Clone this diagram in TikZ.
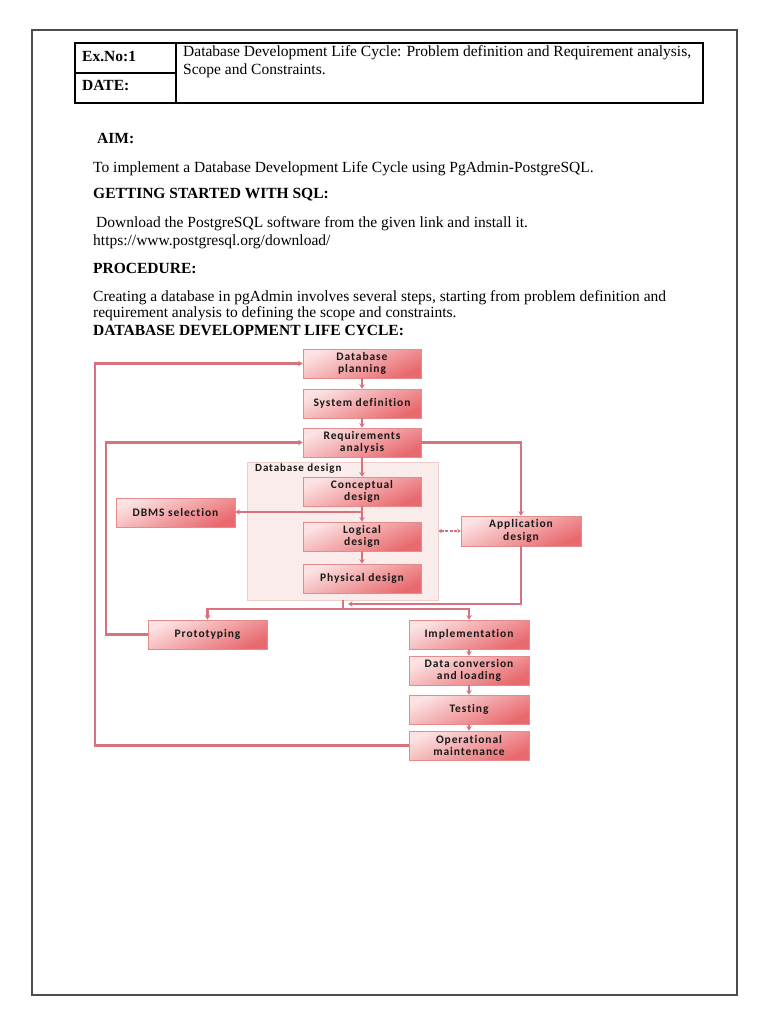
\documentclass[tikz,border=0pt]{standalone}
\usepackage{fontspec}
\setmainfont{Liberation Serif}
\newfontfamily\dfont{Carlito}[LetterSpace=8, Ligatures=NoCommon]
\usetikzlibrary{arrows.meta,shadows}
\definecolor{lc}{RGB}{214,115,126}
\definecolor{boxlight}{RGB}{252,226,226}
\definecolor{boxmid}{RGB}{245,180,180}
\definecolor{boxdark}{RGB}{232,105,110}
\definecolor{boxborder}{RGB}{226,140,140}
\definecolor{contfill}{RGB}{251,236,236}
\definecolor{contdraw}{RGB}{238,205,205}
\tikzset{
  box/.style={draw=boxborder, line width=0.6pt, top color=boxlight, middle color=boxmid, bottom color=boxdark, shading angle=25,
    minimum width=118pt, minimum height=29pt, inner sep=1pt, align=center,
    font=\dfont\bfseries\fontsize{11.5}{12.5}\selectfont, text=black!90,
    drop shadow={shadow xshift=1.2pt, shadow yshift=-1.2pt, fill=black!30, opacity=0.5}},
  conn/.style={draw=lc, line width=2.2pt},
  arr/.style={conn, -{Stealth[length=4.5pt,width=5.5pt]}},
  txt/.style={anchor=base west, inner sep=0pt, font=\fontsize{15.5}{18}\selectfont},
  btxt/.style={txt, font=\fontsize{15.5}{18}\selectfont\bfseries},
}
\begin{document}
\begin{tikzpicture}[x=1pt,y=-1pt]
\useasboundingbox (0,0) rectangle (768,1024);
\fill[white] (0,0) rectangle (768,1024);
% page border
\draw[black!70, line width=1.3pt] (32,30) rectangle (737,995);
% header table
\draw[black, line width=1.1pt] (75,43) rectangle (703,103);
\draw[black, line width=1.1pt] (176,43) -- (176,103);
\draw[black, line width=1.1pt] (75,73) -- (176,73);
\node[btxt] (exno) at (82,62) {Ex.No:1};
\node[btxt] (date) at (82,91) {DATE:};
\node[txt] (t1) at (183,57) {Database Development Life Cycle: Problem definition and Requirement analysis,};
\node[txt] (t2) at (183,75) {Scope and Constraints.};
% body text
\node[btxt] (aim) at (97,144) {AIM:};
\node[txt] (aimt) at (93,173) {To implement a Database Development Life Cycle using PgAdmin-PostgreSQL.};
\node[btxt] (gs) at (93,199) {GETTING STARTED WITH SQL:};
\node[txt] (dl) at (96,227) {Download the PostgreSQL software from the given link and install it.};
\node[txt] (url) at (93,245) {https://www.postgresql.org/download/};
\node[btxt] (proc) at (93,273) {PROCEDURE:};
\node[txt] (c1) at (93,301) {Creating a database in pgAdmin involves several steps, starting from problem definition and};
\node[txt] (c2) at (93,317) {requirement analysis to defining the scope and constraints.};
\node[btxt] (ddlc) at (93,335) {DATABASE DEVELOPMENT LIFE CYCLE:};
% container
\node[draw=contdraw, fill=contfill, line width=0.8pt, minimum width=191pt, minimum height=138pt, inner sep=0pt] (cont) at (342.5,531) {};
\node[anchor=west, inner sep=0pt, font=\dfont\bfseries\fontsize{11}{12.5}\selectfont, text=black!90] (contl) at (255,469) {Database design};
% boxes
\node[box] (dp) at (362,363.5) {Database\\planning};
\node[box] (sd) at (362,403.5) {System definition};
\node[box] (ra) at (362,442.5) {Requirements\\analysis};
\node[box] (cd) at (362,491.5) {Conceptual\\design};
\node[box] (ld) at (362,536.5) {Logical\\design};
\node[box] (pd) at (362,578.5) {Physical design};
\node[box, minimum width=119pt] (dbms) at (175.5,512.5) {DBMS selection};
\node[box, minimum width=120pt, minimum height=30pt] (ad) at (521,531) {Application\\design};
\node[box, minimum width=119pt] (proto) at (207.5,634.5) {Prototyping};
\node[box, minimum width=120pt] (impl) at (469,634.5) {Implementation};
\node[box, minimum width=120pt] (dc) at (469,670.5) {Data conversion\\and loading};
\node[box, minimum width=120pt] (test) at (469,709.5) {Testing};
\node[box, minimum width=120pt] (om) at (469,745.5) {Operational\\maintenance};
% junction coordinates
\coordinate (jtop) at (343,600);
\coordinate (jbot) at (343,609);
\coordinate (jarr) at (348,604);
\coordinate (cdl) at (362,512);
% vertical flow
\draw[arr] (dp) -- (sd);
\draw[arr] (sd) -- (ra);
\draw[arr] (ra) -- (cd);
\draw[arr] (cd) -- (ld);
\draw[arr] (ld) -- (pd);
\draw[arr] (impl) -- (dc);
\draw[arr] (dc) -- (test);
\draw[arr] (test) -- (om);
% conceptual -> DBMS
\draw[arr] (cdl) -- (dbms.east |- cdl);
% logical <-> application
\draw[conn, line width=1.4pt, dash pattern=on 3pt off 1.5pt, {Stealth[length=3.5pt,width=4.5pt]}-{Stealth[length=3.5pt,width=4.5pt]}] (cont.east |- ad.west) -- (ad.west);
% requirements -> application
\draw[arr] (ra.east) -| (ad.north);
% application -> junction
\draw[arr] (ad.south) |- (jarr);
% junction splits
\draw[conn] (jtop) -- (jbot);
\draw[arr] (jbot) -| (proto.north);
\draw[arr] (jbot) -| (impl.north);
% loops back
\draw[arr] (proto.west) -- ++(-42,0) |- (ra.west);
\draw[arr] (om.west) -- ++(-314,0) |- (dp.west);
\end{tikzpicture}
\end{document}
